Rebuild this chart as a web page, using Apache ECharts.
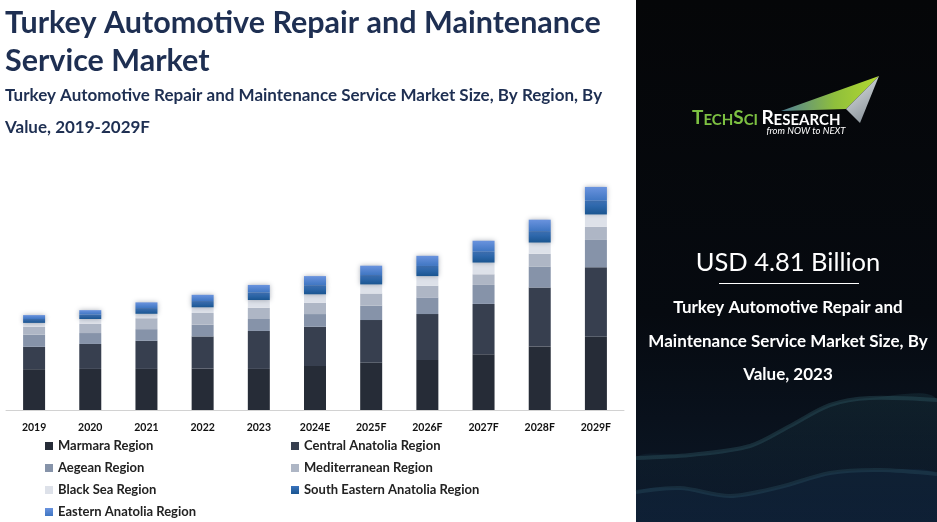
<!DOCTYPE html>
<html>
<head>
<meta charset="utf-8">
<script src="https://cdn.jsdelivr.net/npm/echarts@6/dist/echarts.min.js"></script>
<style>
  html, body { margin: 0; padding: 0; background: #fff; }
  #main { width: 937px; height: 522px; }
</style>
</head>
<body>
<div id="main"></div>
<script>
// categories
var years = ["2019", "2020", "2021", "2022", "2023", "2024E", "2025F", "2026F", "2027F", "2028F", "2029F"];

// USD billion
var marmara       = [1.57, 1.58, 1.58, 1.59, 1.58, 1.69, 1.82, 1.92, 2.14, 2.44, 2.82];
var centralAnat   = [0.86, 0.96, 1.08, 1.24, 1.46, 1.51, 1.64, 1.77, 1.94, 2.27, 2.67];
var aegean        = [0.47, 0.42, 0.45, 0.45, 0.46, 0.49, 0.55, 0.64, 0.73, 0.81, 1.05];
var mediterranean = [0.30, 0.35, 0.42, 0.45, 0.43, 0.43, 0.47, 0.45, 0.41, 0.49, 0.51];
var blackSea      = [0.15, 0.19, 0.17, 0.22, 0.30, 0.33, 0.35, 0.37, 0.45, 0.43, 0.47];
var southEastern  = [0.15, 0.17, 0.22, 0.24, 0.29, 0.35, 0.36, 0.39, 0.42, 0.44, 0.53];
var eastern       = [0.15, 0.17, 0.22, 0.24, 0.29, 0.35, 0.36, 0.39, 0.42, 0.44, 0.53];

var myChart = echarts.init(document.getElementById("main"));
var font = "Lato, 'Noto Sans', sans-serif";

function seg(name, data, color, shadow) {
  var s = {
    name: name,
    type: "bar",
    stack: "total",
    barWidth: 22,
    data: data,
    itemStyle: { color: color },
    emphasis: { disabled: true }
  };
  if (shadow) {
    s.itemStyle.shadowBlur = 5;
    s.itemStyle.shadowColor = "rgba(70,80,100,0.45)";
  }
  return s;
}

var legendText = { fontFamily: font, fontSize: 13, fontWeight: "bold", color: "#222", lineHeight: 14 };

// decorative wave outlines for the dark panel
var wave1 = [[636, 458], [690, 455], [750, 446], [790, 426], [830, 405], [870, 398], [937, 400]];
var wave2 = [[636, 492], [680, 488], [730, 496], [780, 487], [830, 473], [880, 470], [937, 474]];
var panelBox = [[636, 380], [937, 522]];

var option = {
  backgroundColor: "#ffffff",
  animation: false,
  title: [
    {
      text: "Turkey Automotive Repair and Maintenance\nService Market",
      left: 5,
      top: 4,
      padding: 0,
      textStyle: { fontFamily: font, fontSize: 30.5, fontWeight: "bold", color: "#1e2f52", lineHeight: 38 }
    },
    {
      text: "Turkey Automotive Repair and Maintenance Service Market Size, By Region, By\nValue, 2019-2029F",
      left: 5,
      top: 80,
      padding: 0,
      textStyle: { fontFamily: font, fontSize: 17, fontWeight: "bold", color: "#1e2f52", lineHeight: 32 }
    }
  ],
  legend: [
    {
      orient: "vertical",
      left: 45,
      top: 439,
      padding: 0,
      itemWidth: 8,
      itemHeight: 8,
      itemGap: 8,
      icon: "rect",
      data: ["Marmara Region", "Aegean Region", "Black Sea Region", "Eastern Anatolia Region"],
      textStyle: legendText
    },
    {
      orient: "vertical",
      left: 291,
      top: 439,
      padding: 0,
      itemWidth: 8,
      itemHeight: 8,
      itemGap: 8,
      icon: "rect",
      data: ["Central Anatolia Region", "Mediterranean Region", "South Eastern Anatolia Region"],
      textStyle: legendText
    }
  ],
  grid: { left: 6, width: 618, top: 150, height: 260 },
  xAxis: {
    type: "category",
    data: years,
    axisLine: { lineStyle: { color: "#d2d2d2", width: 1 } },
    axisTick: { show: false },
    axisLabel: { margin: 12, fontFamily: font, fontSize: 10.5, fontWeight: "bold", color: "#111" }
  },
  yAxis: {
    type: "value",
    min: 0,
    max: 10,
    show: false,
    splitLine: { show: false }
  },
  series: [
    seg("Marmara Region", marmara, "#262c37"),
    seg("Central Anatolia Region", centralAnat, "#373f4f"),
    seg("Aegean Region", aegean, "#8693a9"),
    seg("Mediterranean Region", mediterranean, "#aeb6c5"),
    seg("Black Sea Region", blackSea, "#dde1e9"),
    seg("South Eastern Anatolia Region", southEastern,
      new echarts.graphic.LinearGradient(0, 0, 0, 1, [
        { offset: 0, color: "#3a73bd" },
        { offset: 1, color: "#1a5590" }
      ]), true),
    seg("Eastern Anatolia Region", eastern,
      new echarts.graphic.LinearGradient(0, 0, 0, 1, [
        { offset: 0, color: "#6a93de" },
        { offset: 1, color: "#3f76c2" }
      ]), true)
  ],
  graphic: [
    // right dark panel
    {
      type: "rect",
      shape: { x: 636, y: 0, width: 301, height: 522 },
      style: {
        fill: new echarts.graphic.LinearGradient(0, 0, 0, 1, [
          { offset: 0, color: "#050608" },
          { offset: 0.6, color: "#060a10" },
          { offset: 1, color: "#0c1828" }
        ])
      },
      silent: true
    },
    // waves
    {
      type: "polygon",
      shape: { points: wave1.concat([[937, 522], [636, 522]]), smooth: 0.3, smoothConstraint: panelBox },
      style: {
        fill: new echarts.graphic.LinearGradient(0, 0, 0, 1, [
          { offset: 0, color: "rgba(35,75,85,0.28)" },
          { offset: 1, color: "rgba(15,35,60,0.15)" }
        ])
      },
      silent: true
    },
    {
      type: "polyline",
      shape: { points: wave1, smooth: 0.3, smoothConstraint: panelBox },
      style: { stroke: "rgba(60,115,125,0.28)", lineWidth: 4, fill: null },
      silent: true
    },
    {
      type: "polygon",
      shape: { points: wave2.concat([[937, 522], [636, 522]]), smooth: 0.3, smoothConstraint: panelBox },
      style: { fill: "rgba(20,45,75,0.3)" },
      silent: true
    },
    {
      type: "polyline",
      shape: { points: wave2, smooth: 0.3, smoothConstraint: panelBox },
      style: { stroke: "rgba(55,105,120,0.25)", lineWidth: 4, fill: null },
      silent: true
    },
    // logo plane
    {
      type: "polygon",
      shape: { points: [[781, 111], [879, 76], [846, 109]] },
      style: {
        fill: new echarts.graphic.LinearGradient(0, 0, 1, 0, [
          { offset: 0, color: "#4f7f96" },
          { offset: 0.55, color: "#8fbf3c" },
          { offset: 1, color: "#b3d92f" }
        ])
      },
      silent: true
    },
    {
      type: "polygon",
      shape: { points: [[846, 109], [879, 76], [860, 123]] },
      style: {
        fill: new echarts.graphic.LinearGradient(0, 0, 1, 1, [
          { offset: 0, color: "#e4e8ea" },
          { offset: 1, color: "#7d878e" }
        ])
      },
      silent: true
    },
    {
      type: "text",
      x: 692,
      y: 118,
      style: {
        text: "{g1|T}{g2|ECH}{g1|S}{g2|CI} {w1|R}{w2|ESEARCH}",
        verticalAlign: "middle",
        rich: {
          g1: { fontFamily: font, fontSize: 19, fontWeight: "bold", fill: "#7dc142", verticalAlign: "bottom" },
          g2: { fontFamily: font, fontSize: 15, fontWeight: "bold", fill: "#7dc142", verticalAlign: "bottom" },
          w1: { fontFamily: font, fontSize: 19, fontWeight: "bold", fill: "#ffffff", verticalAlign: "bottom" },
          w2: { fontFamily: font, fontSize: 15, fontWeight: "bold", fill: "#ffffff", verticalAlign: "bottom" }
        }
      },
      silent: true
    },
    {
      type: "text",
      x: 806,
      y: 131,
      style: {
        text: "from NOW to NEXT",
        fontFamily: font,
        fontSize: 9.5,
        fontStyle: "italic",
        fill: "#ffffff",
        align: "center",
        verticalAlign: "middle"
      },
      silent: true
    },
    // headline value
    {
      type: "text",
      x: 788,
      y: 263,
      style: {
        text: "USD 4.81 Billion",
        fontFamily: font,
        fontSize: 25.5,
        fill: "#ffffff",
        align: "center",
        verticalAlign: "middle"
      },
      silent: true
    },
    {
      type: "line",
      shape: { x1: 719, y1: 283.5, x2: 859, y2: 283.5 },
      style: { stroke: "#ffffff", lineWidth: 1 },
      silent: true
    },
    {
      type: "text",
      x: 788,
      y: 291,
      style: {
        text: "Turkey Automotive Repair and\nMaintenance Service Market Size, By\nValue, 2023",
        fontFamily: font,
        fontSize: 17,
        fontWeight: "bold",
        lineHeight: 33.5,
        fill: "#ffffff",
        align: "center",
        verticalAlign: "top"
      },
      silent: true
    }
  ]
};

option && myChart.setOption(option);
</script>
</body>
</html>
